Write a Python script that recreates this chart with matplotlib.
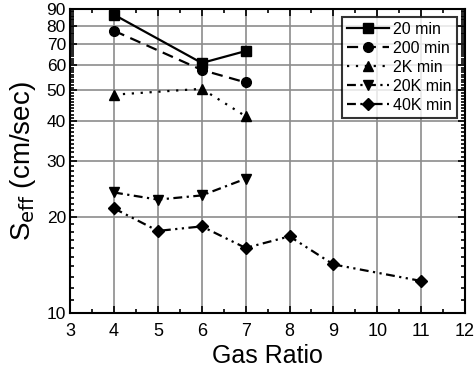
import numpy as np
import matplotlib
matplotlib.use("Agg")
import matplotlib.pyplot as plt
from matplotlib.ticker import FixedLocator, NullFormatter, MultipleLocator

plt.rcParams['font.family'] = ['Liberation Sans', 'DejaVu Sans']

# data
x_short = [4, 6, 7]
s_20 = [86.5, 61.0, 66.5]
s_200 = [77.0, 58.0, 53.0]
s_2k = [48.5, 50.6, 41.5]

x_20k = [4, 5, 6, 7]
s_20k = [23.9, 22.7, 23.4, 26.4]

x_40k = [4, 5, 6, 7, 8, 9, 11]
s_40k = [21.3, 18.1, 18.7, 16.0, 17.4, 14.2, 12.6]

labels = ["20 min", "200 min", "2K min", "20K min", "40K min"]
y_ticks = [10, 20, 30, 40, 50, 60, 70, 80, 90]

fig = plt.figure(figsize=(4.74, 3.69), dpi=100)
ax = fig.add_axes([0.148, 0.152, 0.833, 0.823])

lw = 1.6
ms = 7
ax.plot(x_short, s_20, color='k', lw=lw, ls='-', marker='s', ms=ms, label=labels[0])
ax.plot(x_short, s_200, color='k', lw=lw, ls=(0, (5, 3)), marker='o', ms=ms, label=labels[1])
ax.plot(x_short, s_2k, color='k', lw=lw, ls=(0, (1, 3)), marker='^', ms=ms, label=labels[2])
ax.plot(x_20k, s_20k, color='k', lw=lw, ls=(0, (4, 2, 1, 2)), marker='v', ms=ms, label=labels[3])
ax.plot(x_40k, s_40k, color='k', lw=lw, ls=(0, (4, 2, 1, 2, 1, 2)), marker='D', ms=ms - 1, label=labels[4])

ax.set_yscale('log')
ax.set_xlim(3, 12)
ax.set_ylim(10, 90)
ax.xaxis.set_major_locator(MultipleLocator(1))
ax.xaxis.set_minor_locator(MultipleLocator(0.5))
ax.yaxis.set_major_locator(FixedLocator(y_ticks))
ax.yaxis.set_minor_locator(FixedLocator([v for v in range(11, 90) if v % 10]))
ax.yaxis.set_minor_formatter(NullFormatter())
ax.set_yticklabels([str(v) for v in y_ticks])

ax.grid(True, which='major', color='#8c8c8c', lw=1.2)
ax.set_axisbelow(True)
ax.tick_params(which='both', direction='in', top=True, right=True, width=1.2)
ax.tick_params(which='major', length=5)
ax.tick_params(which='minor', length=3)
ax.tick_params(axis='x', labelsize=13, pad=7)
ax.tick_params(axis='y', labelsize=12.5, pad=3)
for sp in ax.spines.values():
    sp.set_linewidth(1.5)

ax.set_xlabel("Gas Ratio", fontsize=18, labelpad=3)
ax.set_ylabel(r"S$_{\mathrm{eff}}$ (cm/sec)", fontsize=20, labelpad=6)

leg = ax.legend(loc='upper right', fontsize=11.5, frameon=True, fancybox=False,
                edgecolor='k', handlelength=2.6, borderpad=0.3, labelspacing=0.25,
                handletextpad=0.3, borderaxespad=0.5)
leg.get_frame().set_linewidth(1.5)

fig.savefig("out.png", dpi=100)
